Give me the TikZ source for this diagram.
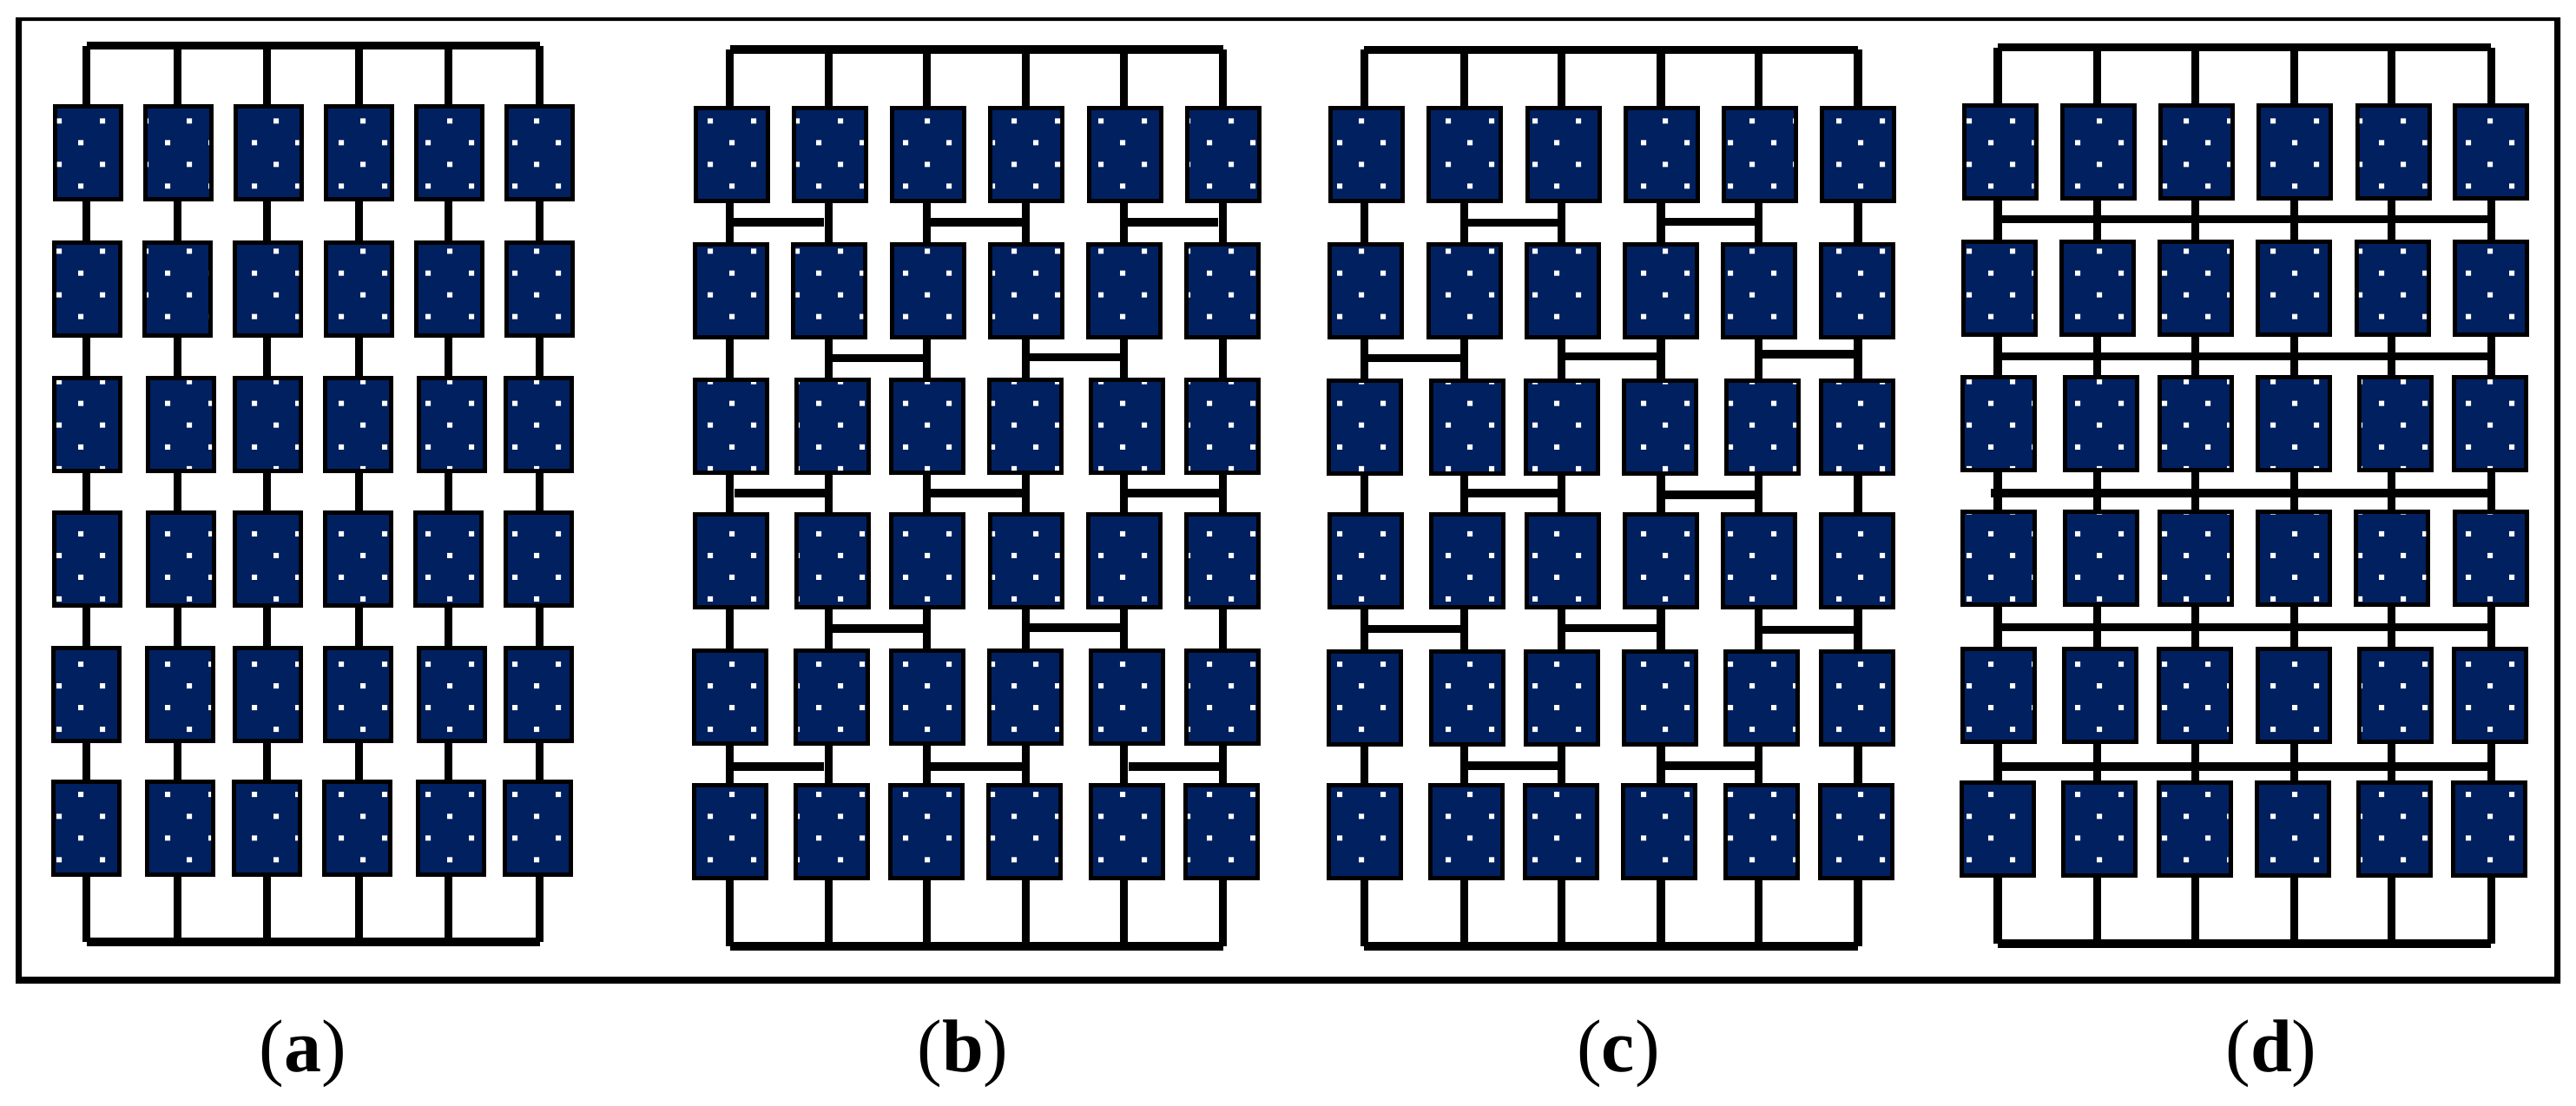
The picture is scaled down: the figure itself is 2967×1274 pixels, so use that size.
\documentclass[tikz,border=0pt]{standalone}
\usepackage{fontspec}
\setmainfont{Liberation Serif}
\definecolor{CellClr}{RGB}{0,32,96}
\tikzset{
  cell/.style={draw=black,line width=1.25pt,fill=CellClr,inner sep=0pt,outer sep=0pt,minimum width=20.75pt,minimum height=26.75pt},
  narrowcell/.style={cell,minimum width=19pt},
  wire/.style={line width=2.3pt,color=black},
  bus/.style={line width=2.4pt,color=black},
  caption/.style={anchor=base,inner sep=0pt,font=\fontsize{21.5}{25}\selectfont}
}

\begin{document}
\begin{tikzpicture}[x=0.25pt,y=-0.25pt]
\useasboundingbox (0,0) rectangle (2967,1274);

\fill[even odd rule] (18,20) rectangle (2949,1133) (25,24) rectangle (2942,1125);

% Strings: top and bottom ends of each column.
\foreach \pan/\ytop/\ybot/\xlist in {
  a/52.5/1085/{99.6,204.5,307.8,413.5,516.3,621.6},
  b/57/1090/{840.5,954.8,1067.5,1181.6,1294.5,1408.8},
  c/57.4/1090/{1571.4,1686.5,1798.6,1913,2025.2,2139.9},
  d/54.6/1087/{2300.9,2415.2,2528.2,2642.4,2754.8,2869.4}}{
  \foreach \x [count=\c] in \xlist {
    \coordinate (\pan-top-\c) at (\x,\ytop);
    \coordinate (\pan-bot-\c) at (\x,\ybot);
    \draw[wire] (\pan-top-\c) -- (\pan-bot-\c);
  }
  \draw[bus] (\pan-top-1) -- (\pan-top-6);
  \draw[bus] (\pan-bot-1) -- (\pan-bot-6);
}

% Cross ties.
\foreach \pan/\i/\j/\y in {
  b/3/4/256,b/2/3/412.5,b/4/5/411.5,b/3/4/568,b/5/6/568,b/2/3/724,b/4/5/723,b/3/4/883,
  c/2/3/256.5,c/4/5/255.6,c/1/2/412.6,c/3/4/410.5,c/5/6/407.7,c/2/3/567.7,c/4/5/570,
  c/1/2/724.4,c/3/4/723.4,c/5/6/725.4,c/2/3/881.8,c/4/5/881.8,
  d/1/6/252.6,d/1/6/410.5,d/1/6/722.3,d/1/6/883}
  \draw[bus] (\pan-top-\i |- 0,\y) -- (\pan-top-\j |- 0,\y);

% These stop short of one wire.
\draw[bus] (b-top-1 |- 0,256) -- ++(108.5,0);
\draw[bus] (b-top-5 |- 0,256) -- ++(108.5,0);
\draw[bus] (b-top-2 |- 0,568) -- ++(-108.8,0);
\draw[bus] (b-top-1 |- 0,883) -- ++(108.5,0);
\draw[bus] (b-top-6 |- 0,883) -- ++(-108.8,0);
\draw[bus] (d-top-6 |- 0,567.7) -- ++(-576.4,0);

% Modules.
\foreach \r/\y/\xlist in {
  1/176/{101.2,205.3,309.2,413.3,517.6,621.4},
  2/333/{100.4,204.5,308.8,413.3,517.6,621.4},
  3/489/{100.4,208.6,308.6,412.4,520.4,620.4},
  4/644/{100.4,208.6,308.6,412.4,516.5,620.4},
  5/800/{99.6,207.6,308.6,412.4,520,620.4},
  6/954/{99.6,207.6,307.6,411.4,519.6,619.6}}
  \foreach \x [count=\c] in \xlist
    \node[narrowcell] (a-\r-\c) at (\x,\y) {};

\foreach \pan/\r/\y/\xlist in {
  b/1/178/{843.1,955.8,1069,1182.4,1295.8,1409},
  b/2/335/{842,955.4,1068.6,1182,1295,1408},
  b/3/491/{841.6,958.9,1068.2,1180.9,1298.4,1408},
  b/4/646/{842,958.9,1068.2,1181.6,1295,1408},
  b/5/803/{840.9,958.4,1067.5,1180.9,1298,1408},
  b/6/958/{840.5,958,1066.9,1180,1297.6,1406.8},
  c/1/178/{1574,1687.1,1800.5,1914,2027.1,2139.9},
  c/2/335/{1573.1,1686.5,1799.9,1913.1,2025.8,2139.4},
  c/3/492/{1572.4,1690.2,1799,1912,2030.2,2139},
  c/4/646/{1573.1,1690.2,1799.5,1913.1,2025.8,2139},
  c/5/804/{1572,1689.5,1799,1912,2028.9,2138.6},
  c/6/958/{1571.6,1688.9,1798.2,1910.9,2028.9,2138.1},
  d/1/175/{2303.5,2416.5,2529.9,2643.1,2756.5,2869.4},
  d/2/332/{2303.1,2415.8,2529,2642.4,2755.8,2869},
  d/3/488/{2302,2419.5,2528.6,2642,2758.9,2868.1},
  d/4/643.4/{2302.4,2420.2,2529,2642,2755.4,2868.6},
  d/5/801/{2302,2418.9,2528.2,2641.6,2758.9,2868.1},
  d/6/955/{2300.9,2418.4,2527.5,2640.9,2758,2866.8}}
  \foreach \x [count=\c] in \xlist
    \node[cell] (\pan-\r-\c) at (\x,\y) {};

% White dots run on one grid over the whole figure.
\begin{scope}
\clip \foreach \pan in {a,b,c,d} {\foreach \r in {1,...,6} {\foreach \c in {1,...,6} {
  ([shift={(2.5,-2.5)}]\pan-\r-\c.south west) rectangle ([shift={(-2.5,2.5)}]\pan-\r-\c.north east)
}}};
\fill[white] \foreach \j [evaluate=\j as \dy using 139.3+25.03*\j, evaluate=\j as \dx using 18+25*(\j-2*floor(\j/2))] in {0,...,35} {
  \foreach \k in {0,...,58} { (\dx+50*\k-3,\dy-3) rectangle ++(6,6) }
};
\end{scope}

\node[caption] (capa) at (349,1234) {(\textbf{a})};
\node[caption] (capb) at (1109,1234) {(\textbf{b})};
\node[caption] (capc) at (1864,1234) {(\textbf{c})};
\node[caption] (capd) at (2616,1234) {(\textbf{d})};

\end{tikzpicture}
\end{document}
